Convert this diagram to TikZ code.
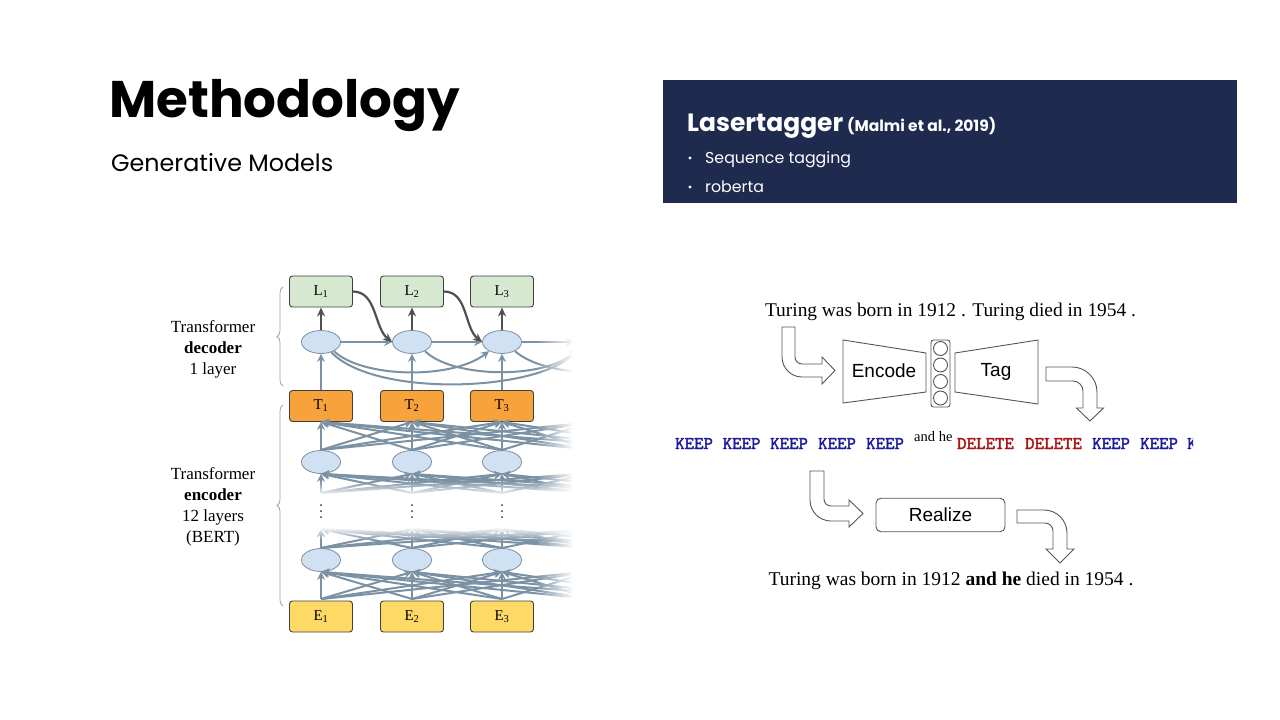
\documentclass[tikz,border=0pt]{standalone}
\usepackage{fontspec}
\setmainfont{Liberation Serif}
\newfontfamily\pop{Poppins}
\newfontfamily\ars{Liberation Sans}
\newfontfamily\ttb{lmmono10-regular.otf}[FakeBold=2.2]
\usetikzlibrary{arrows.meta,fadings,shapes.geometric,decorations.pathreplacing}
\definecolor{navy}{HTML}{1F2A4F}
\definecolor{cL}{HTML}{D6E8D0}
\definecolor{cT}{HTML}{F7A23B}
\definecolor{cE}{HTML}{FFD966}
\definecolor{neuf}{HTML}{CFE1F2}
\definecolor{neud}{HTML}{7F8FA0}
\definecolor{meshc}{HTML}{7B91A4}
\definecolor{darkar}{HTML}{505050}
\definecolor{boxd}{HTML}{404040}
\definecolor{keepb}{HTML}{1C1CA0}
\definecolor{delr}{HTML}{A81616}
\definecolor{figline}{HTML}{555555}
\tikzset{
  lbox/.style={draw=boxd, line width=0.9pt, rounded corners=3pt, minimum width=63pt, minimum height=31pt, inner sep=0pt, font=\fontsize{15}{15}\selectfont},
  neuron/.style={ellipse, draw=neud, line width=0.8pt, fill=neuf, minimum width=39pt, minimum height=23pt, inner sep=0pt},
  meshar/.style={draw=meshc, line width=2pt, -{Stealth[length=8pt,width=8pt]}},
  decar/.style={draw=darkar, line width=2.2pt, -{Stealth[length=9pt,width=8pt]}},
  lbl/.style={align=center, inner sep=0pt, font=\fontsize{17}{21}\selectfont},
  hollow/.style={draw=figline, line width=0.9pt, fill=white},
  trap/.style={draw=figline, line width=0.9pt},
  sanslbl/.style={inner sep=0pt, font=\ars\fontsize{19}{19}\selectfont},
  tagw/.style={anchor=base west, inner sep=0pt, font=\ttb\fontsize{18}{18}\selectfont},
  brc/.style={draw=gray!70, line width=0.8pt, decorate, decoration={brace, amplitude=6pt}}
}
\begin{document}
\begin{tikzpicture}[x=1pt,y=-1pt]
\useasboundingbox (0,0) rectangle (1280,720);
\fill[white] (0,0) rectangle (1280,720);

% ---------- titles
\node[anchor=base west, inner sep=0pt, font=\pop\bfseries\fontsize{51.5}{56}\selectfont] (title) at (109,117) {Methodology};
\node[anchor=base west, inner sep=0pt, font=\pop\fontsize{23.8}{26}\selectfont] (sub) at (111,171) {Generative Models};

% ---------- header box
\node[fill=navy, minimum width=574pt, minimum height=123pt, anchor=north west, inner sep=0pt] (hdr) at (663,80) {};
\node[anchor=base west, inner sep=0pt, text=white, font=\pop\bfseries\fontsize{25}{30}\selectfont] (lt) at (687,131) {Lasertagger};
\node[anchor=base west, inner sep=0pt, text=white, font=\pop\bfseries\fontsize{15.5}{17}\selectfont] (cite) at (847,131) {(Malmi et al., 2019)};
\fill[white] (690,158) circle (1.7);
\fill[white] (690,187) circle (1.7);
\node[anchor=base west, inner sep=0pt, text=white, font=\pop\fontsize{15.8}{18}\selectfont] (b1) at (705,163) {Sequence tagging};
\node[anchor=base west, inner sep=0pt, text=white, font=\pop\fontsize{15.8}{18}\selectfont] (b2) at (705,192) {roberta};

% ---------- left diagram nodes
\foreach \i/\x in {1/321,2/412,3/502}{
  \node[lbox, fill=cL] (L\i) at (\x,291.5) {L\textsubscript{\i}};
  \node[neuron] (D\i) at (\x,342) {};
  \node[lbox, fill=cT] (T\i) at (\x,406) {T\textsubscript{\i}};
  \node[neuron] (N\i) at (\x,462) {};
  \node[neuron] (M\i) at (\x,560) {};
  \node[lbox, fill=cE] (E\i) at (\x,616.5) {E\textsubscript{\i}};
}
\coordinate (D4) at (593,342);
\coordinate (D5) at (683,342);
\foreach \i/\x in {1/321,2/412,3/502,4/593,5/683}{
  \coordinate (bA\i) at (\x,450);
  \coordinate (bB\i) at (\x,493);
  \coordinate (bC\i) at (\x,548);
  \coordinate (bD\i) at (\x,599);
  \coordinate (tC\i) at (\x,529);
}
\foreach \i in {1,2,3}{
  \coordinate (tA\i) at (T\i.south);
  \coordinate (tB\i) at (N\i.south);
  \coordinate (tD\i) at (M\i.south);
}
\coordinate (tA4) at (593,422);
\coordinate (tB4) at (593,473);
\coordinate (tD4) at (593,571);

\begin{scope}
\clip (150,265) rectangle (572,645);
% encoder mesh
\foreach \b in {A,B,C,D}{
  \foreach \i in {1,...,5}{
    \foreach \j in {1,...,4}{
      \draw[meshar] (b\b\i) -- (t\b\j);
    }
  }
}
% decoder
\foreach \i in {1,2,3}{
  \draw[meshar] (T\i.north) -- (D\i.south);
}
\draw[meshar] (D1.east) -- (D2.west);
\draw[meshar] (D2.east) -- (D3.west);
\draw[meshar] (D3.east) -- ([xshift=-19pt]D4);
\draw[meshar] (D1.-35) .. controls (362,378) and (452,380) .. (D3.-145);
\draw[meshar] (D1.-45) .. controls (375,398) and (540,392) .. ([xshift=-15pt,yshift=-7pt]D4);
\draw[meshar] (D2.-35) .. controls (452,378) and (545,380) .. ([xshift=-15pt,yshift=-7pt]D4);
\draw[meshar] (D3.-35) .. controls (545,378) and (635,380) .. ([xshift=-15pt,yshift=-7pt]D5);
\end{scope}
\foreach \i in {1,2,3}{
  \draw[decar] (D\i.north) -- (L\i.south);
}
\draw[decar] (L1.east) .. controls ([xshift=24pt]L1.east) and ([xshift=-18pt,yshift=14pt]D2.west) .. (D2.west);
\draw[decar] (L2.east) .. controls ([xshift=24pt]L2.east) and ([xshift=-18pt,yshift=14pt]D3.west) .. (D3.west);

% fades
\fill[white, path fading=west] (536,266) rectangle (574,646);
\fill[white, path fading=north] (284,481) rectangle (574,496);
\fill[white] (284,496) rectangle (574,527);
\fill[white, path fading=south] (284,527) rectangle (574,540);

% dots
\foreach \x in {321,412,502}{
  \foreach \y in {505,511,517}{ \fill[black!80] (\x,\y) circle (1); }
}

% braces and labels
\draw[brc] (283,386) -- (283,287);
\draw[brc] (283,606) -- (283,405);
\node[lbl] (declbl) at (213,349) {Transformer\\\textbf{decoder}\\1 layer};
\node[lbl] (enclbl) at (213,506.5) {Transformer\\\textbf{encoder}\\12 layers\\(BERT)};

% ---------- right diagram
\node[anchor=base, inner sep=0pt, font=\fontsize{19.4}{21}\selectfont] (s1) at (950.5,316) {Turing was born in 1912 . Turing died in 1954 .};

\draw[hollow] (782,327) -- (795,327) -- (795,357) .. controls (795,360.9) and (798.1,364) .. (802,364) -- (822,364) -- (822,357) -- (835,370.5) -- (822,384) -- (822,377) -- (802,377) .. controls (791,377) and (782,368) .. (782,357) -- cycle;

\draw[trap] (843,340) -- (926,353) -- (926,392) -- (843,403) -- cycle;
\node[sanslbl] (enc) at (884,371) {Encode};
\draw[trap, rounded corners=2.5pt] (931,340) rectangle (950,407);
\foreach \y in {348.5,365,381.5,398}{ \draw[trap] (940.5,\y) circle (7); }
\draw[trap] (955,353) -- (1038,340) -- (1038,404) -- (955,392) -- cycle;
\node[sanslbl] (tag) at (996,372) {Tag};

\draw[hollow] (1046,367) -- (1072,367) .. controls (1085.8,367) and (1097,378.2) .. (1097,392) -- (1097,408) -- (1103.5,408) -- (1090,421) -- (1076.5,408) -- (1083,408) -- (1083,391) .. controls (1083,385.5) and (1078.5,381) .. (1073,381) -- (1046,381) -- cycle;

% tags row
\node[tagw, text=keepb] (k1) at (675,449) {KEEP};
\node[tagw, text=keepb] (k2) at (722.5,449) {KEEP};
\node[tagw, text=keepb] (k3) at (770,449) {KEEP};
\node[tagw, text=keepb] (k4) at (818,449) {KEEP};
\node[tagw, text=keepb] (k5) at (866,449) {KEEP};
\node[anchor=base west, inner sep=0pt, font=\fontsize{14.5}{15}\selectfont] (andhe) at (914,441) {and he};
\node[tagw, text=delr] (d1) at (957,449) {DELETE};
\node[tagw, text=delr] (d2) at (1025,449) {DELETE};
\node[tagw, text=keepb] (k6) at (1092,449) {KEEP};
\node[tagw, text=keepb] (k7) at (1140,449) {KEEP};
\begin{scope}
\clip (1180,420) rectangle (1193,460);
\node[tagw, text=keepb] (k8) at (1187,449) {KEEP};
\end{scope}

\draw[hollow] (810,471) -- (824,471) -- (824,499) .. controls (824,503) and (827,506) .. (831,506) -- (849,506) -- (849,500) -- (863,513.5) -- (849,527) -- (849,521) -- (831,521) .. controls (819.4,521) and (810,511.6) .. (810,500) -- cycle;

\node[draw=figline, line width=0.9pt, rounded corners=5pt, minimum width=129pt, minimum height=33.5pt, inner sep=0pt, font=\ars\fontsize{19}{19}\selectfont] (rz) at (940.5,515) {Realize};

\draw[hollow] (1017,510) -- (1044,510) .. controls (1056.7,510) and (1067,520.3) .. (1067,533) -- (1067,549) -- (1074,549) -- (1060,563) -- (1046,549) -- (1053,549) -- (1053,531) .. controls (1053,526.6) and (1049.4,523) .. (1045,523) -- (1017,523) -- cycle;

\node[anchor=base, inner sep=0pt, font=\fontsize{19.5}{21}\selectfont] (s2) at (951,585) {Turing was born in 1912 \textbf{and he} died in 1954 .};
\end{tikzpicture}
\end{document}
